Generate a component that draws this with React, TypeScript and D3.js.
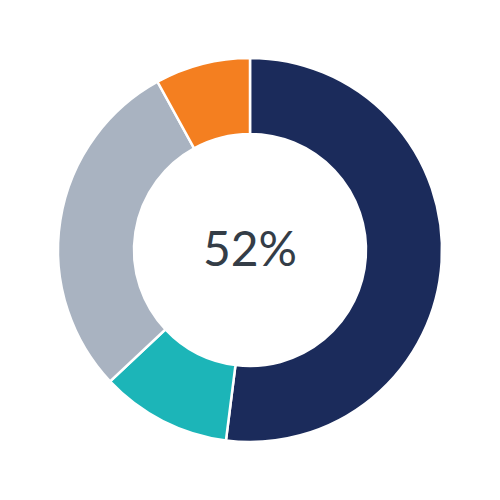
import React from "react";
import * as d3 from "d3";

const WIDTH = 500;
const HEIGHT = 500;
const OUTER = 192;
const INNER = 116;

const categories = ["A", "B", "C", "D"];
const values = [52, 11, 29, 8];
const colors = ["#1b2b5b", "#1cb5b8", "#a9b3c1", "#f47f20"];
const centerLabel = "52%";

export default function App() {
  const pie = d3
    .pie<number>()
    .sort(null)
    .value(d => d);
  const arc = d3
    .arc<d3.PieArcDatum<number>>()
    .innerRadius(INNER)
    .outerRadius(OUTER);

  const slices = pie(values);

  return (
    <div style={{ position: "absolute", left: 0, top: 0 }}>
      <svg width={WIDTH} height={HEIGHT} style={{ display: "block" }}>
        <rect width={WIDTH} height={HEIGHT} fill="#ffffff" />
        <g transform={`translate(${WIDTH / 2},${HEIGHT / 2})`}>
          {slices.map((s, i) => (
            <path
              key={categories[i]}
              d={arc(s) || ""}
              fill={colors[i]}
              stroke="#ffffff"
              strokeWidth={2.5}
            />
          ))}
          <text
            x={0}
            y={16}
            textAnchor="middle"
            fontFamily="Lato, sans-serif"
            fontSize={48}
            fill="#343d47"
          >
            {centerLabel}
          </text>
        </g>
      </svg>
    </div>
  );
}
